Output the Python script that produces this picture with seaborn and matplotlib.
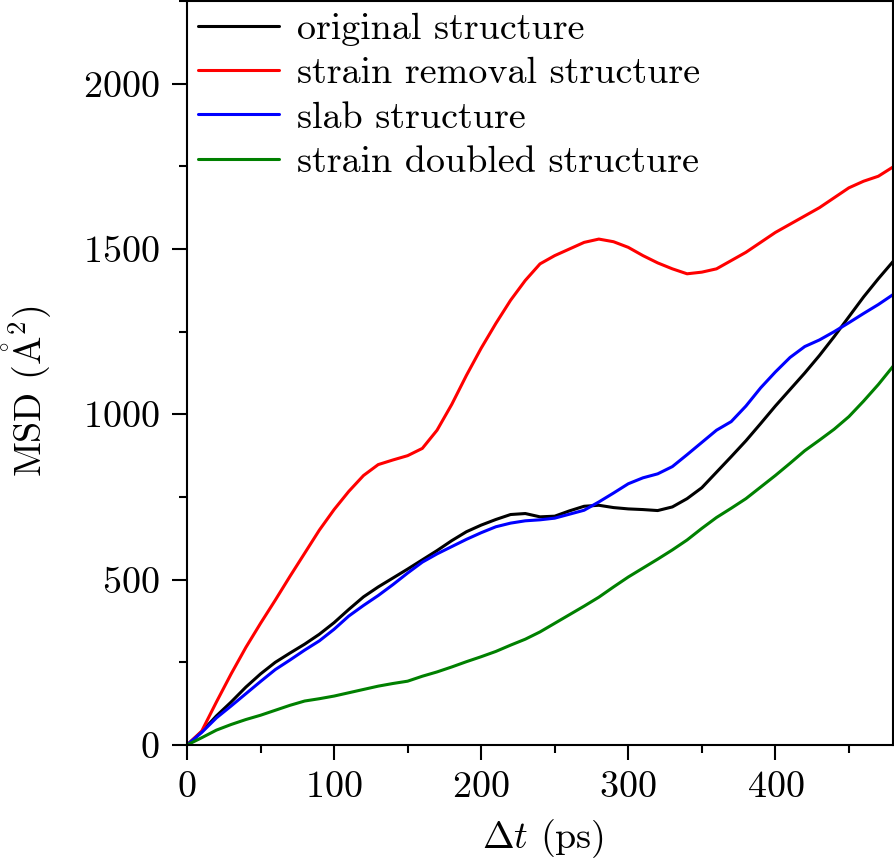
import numpy as np
import pandas as pd
import matplotlib
matplotlib.use("Agg")
import matplotlib.pyplot as plt
from matplotlib.ticker import MultipleLocator
import seaborn as sns

# ---- data ----
t_ps = [0, 10, 20, 30, 40, 50, 60, 70, 80, 90, 100, 110, 120, 130, 140, 150, 160, 170, 180, 190,
        200, 210, 220, 230, 240, 250, 260, 270, 280, 290, 300, 310, 320, 330, 340, 350, 360, 370,
        380, 390, 400, 410, 420, 430, 440, 450, 460, 470, 480]

msd_original = [0, 40, 88, 130, 175, 215, 250, 278, 305, 335, 370, 410, 448, 478, 505, 532, 560,
                588, 618, 645, 665, 682, 697, 700, 690, 692, 708, 722, 725, 718, 714, 712, 709,
                720, 745, 778, 825, 872, 920, 972, 1025, 1075, 1125, 1178, 1235, 1295, 1355,
                1410, 1462]

msd_strain_removal = [0, 42, 130, 215, 295, 368, 438, 510, 580, 650, 712, 767, 815, 848, 862, 875,
                      897, 952, 1030, 1118, 1200, 1275, 1345, 1405, 1455, 1480, 1500, 1520, 1530,
                      1522, 1505, 1480, 1458, 1440, 1425, 1430, 1440, 1465, 1490, 1520, 1550, 1575,
                      1600, 1625, 1655, 1685, 1705, 1720, 1748]

msd_slab = [0, 38, 82, 118, 155, 192, 228, 257, 287, 315, 350, 390, 422, 452, 485, 520, 553, 578,
            600, 622, 642, 660, 671, 678, 681, 686, 698, 710, 735, 762, 790, 808, 820, 842, 878,
            915, 952, 978, 1025, 1080, 1128, 1172, 1205, 1225, 1250, 1277, 1305, 1332, 1362]

msd_strain_doubled = [0, 22, 45, 62, 77, 90, 105, 120, 133, 140, 148, 158, 168, 178, 186, 193, 208,
                      221, 236, 252, 267, 283, 302, 320, 342, 368, 394, 420, 447, 478, 508, 535,
                      562, 590, 620, 655, 688, 716, 745, 780, 815, 852, 890, 922, 955, 993, 1040,
                      1090, 1145]

series_names = ["original structure", "strain removal structure", "slab structure",
                "strain doubled structure"]
series_colors = ["#000000", "#ff0000", "#0000ff", "#008000"]

frames = []
for name, vals in zip(series_names,
                      [msd_original, msd_strain_removal, msd_slab, msd_strain_doubled]):
    frames.append(pd.DataFrame({"t": t_ps, "msd": vals, "series": name}))
df = pd.concat(frames, ignore_index=True)

# ---- style ----
sns.set_style("white")
plt.rcParams["font.family"] = ["cmr10", "DejaVu Serif"]
plt.rcParams["mathtext.fontset"] = "cm"
plt.rcParams["axes.formatter.use_mathtext"] = True
plt.rcParams["axes.unicode_minus"] = False
plt.rcParams["text.color"] = "black"
plt.rcParams["axes.labelcolor"] = "black"
plt.rcParams["xtick.color"] = "black"
plt.rcParams["ytick.color"] = "black"

FS = 27.4

fig = plt.figure(figsize=(8.95, 8.59), dpi=100)
ax = fig.add_axes([187 / 895, 1 - 745 / 859, 706 / 895, 744 / 859])

sns.lineplot(data=df, x="t", y="msd", hue="series", hue_order=series_names,
             palette=dict(zip(series_names, series_colors)), linewidth=2.2, ax=ax,
             estimator=None, sort=False)

ax.set_xlim(0, 480)
ax.set_ylim(0, 2250)
ax.xaxis.set_major_locator(MultipleLocator(100))
ax.xaxis.set_minor_locator(MultipleLocator(50))
ax.yaxis.set_major_locator(MultipleLocator(500))
ax.yaxis.set_minor_locator(MultipleLocator(250))

for s in ax.spines.values():
    s.set_linewidth(1.5)
    s.set_color("black")

ax.tick_params(axis="both", which="major", direction="out", length=10.8, width=1.5,
               labelsize=FS, colors="black", top=False, right=False,
               bottom=True, left=True)
ax.tick_params(axis="x", which="major", pad=8)
ax.tick_params(axis="y", which="major", pad=9)
ax.tick_params(axis="both", which="minor", direction="out", length=5.8, width=1.5,
               top=False, right=False, bottom=True, left=True)

ax.set_xlabel(r"$\Delta t$ (ps)", fontsize=FS, color="black")
ax.set_ylabel(r"MSD ($\mathring{\mathrm{A}}^2$)", fontsize=FS, color="black")
ax.xaxis.set_label_coords(0.505, -0.097)
ax.yaxis.set_label_coords(-0.188, 0.475)

leg = ax.legend(loc="upper left", frameon=False, fontsize=FS, handlelength=2.13,
                handletextpad=0.45, labelspacing=0.28, borderaxespad=0.1,
                borderpad=0.2)
for line in leg.get_lines():
    line.set_linewidth(2.2)
for txt in leg.get_texts():
    txt.set_color("black")

fig.savefig("out.png", dpi=100)
